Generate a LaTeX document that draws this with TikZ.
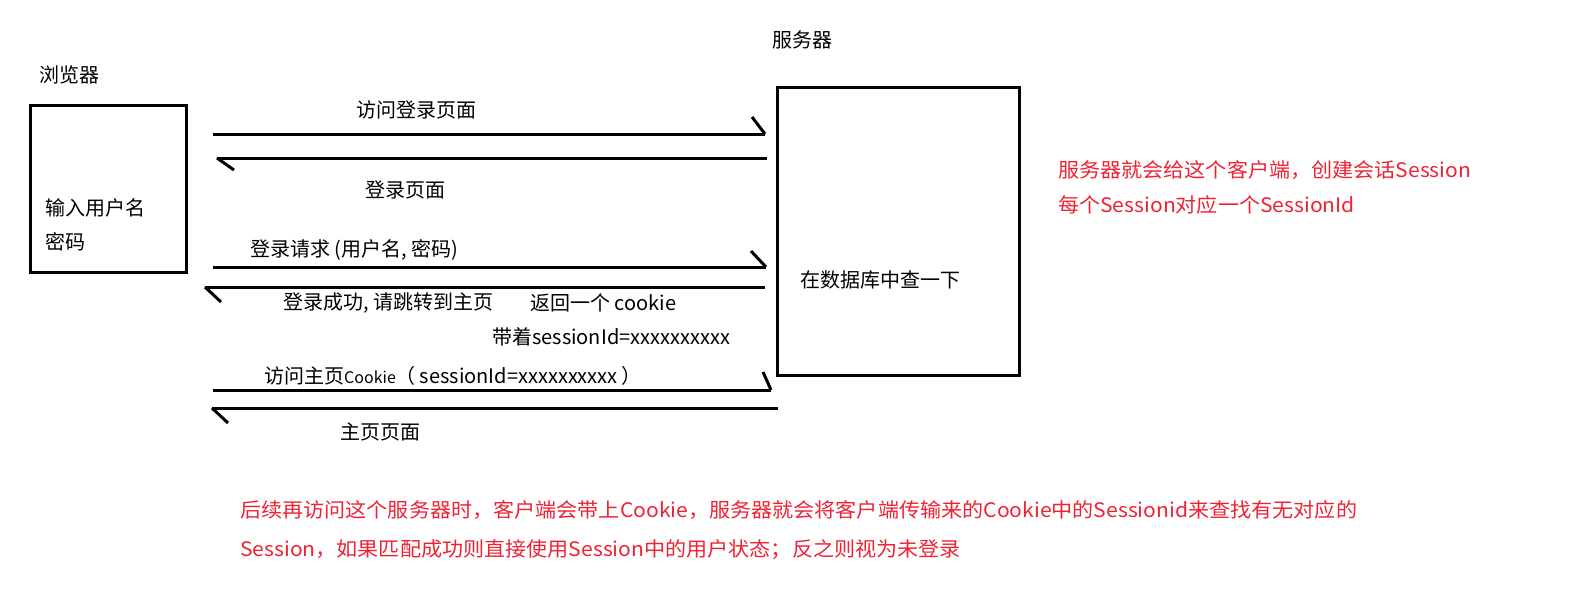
\documentclass[tikz,border=0pt]{standalone}
\usepackage{fontspec}
\setmainfont{Noto Sans CJK SC}
\definecolor{note}{RGB}{238,34,51}
\begin{document}
\begin{tikzpicture}[x=1pt,y=-1pt,
  box/.style={draw,line width=3pt},
  msg/.style={line width=3pt},
  barb/.style={line width=3pt},
  lbl/.style={anchor=west,inner sep=0pt,font=\fontsize{20}{24}\selectfont},
  red/.style={anchor=west,inner sep=0pt,text=note,xscale=1.055,font=\fontsize{20}{24}\selectfont}]
\useasboundingbox (0,0) rectangle (1577,595);
% boxes
\node[box,minimum width=156pt,minimum height=167pt,inner sep=0pt] (browser) at (108,188.5) {};
\node[box,minimum width=242pt,minimum height=288pt,inner sep=0pt] (server) at (898,231) {};
\node[lbl] (bt) at (39,75) {浏览器};
\node[lbl] (st) at (772,40) {服务器};
\node[lbl] (b1) at (45,208) {输入用户名};
\node[lbl] (b2) at (45,242) {密码};
\node[lbl] (s1) at (800,280) {在数据库中查一下};
% message endpoints
\coordinate (a1s) at (213,134); \coordinate (a1e) at (765,134);
\coordinate (a2s) at (767,158); \coordinate (a2e) at (217,158);
\coordinate (a3s) at (213,267); \coordinate (a3e) at (766,267);
\coordinate (a4s) at (765,287); \coordinate (a4e) at (205,287);
\coordinate (a5s) at (213,390); \coordinate (a5e) at (771,390);
\coordinate (a6s) at (778,408); \coordinate (a6e) at (212,408);
\draw[msg] (a1s) -- (a1e); \draw[barb] (a1e) -- ++(-13,-17);
\draw[msg] (a2s) -- (a2e); \draw[barb] (a2e) -- ++(17,12);
\draw[msg] (a3s) -- (a3e); \draw[barb] (a3e) -- ++(-15,-16);
\draw[msg] (a4s) -- (a4e); \draw[barb] (a4e) -- ++(16,15);
\draw[msg] (a5s) -- (a5e); \draw[barb] (a5e) -- ++(-8,-18);
\draw[msg] (a6s) -- (a6e); \draw[barb] (a6e) -- ++(16,15);
% labels
\node[lbl] (l1) at (356,110) {访问登录页面};
\node[lbl] (l2) at (365,190) {登录页面};
\node[lbl] (l3) at (250,250) {登录请求 (用户名, 密码)};
\node[lbl] (l4) at (283,303) {登录成功, 请跳转到主页};
\node[lbl] (l4b) at (530,303) {返回一个 cookie};
\node[lbl] (l4c) at (492,337) {带着sessionId=xxxxxxxxxx};
\node[lbl] (l5) at (264,376) {访问主页{\fontsize{16}{19}\selectfont Cookie}（\hspace{4pt}sessionId=xxxxxxxxxx\hspace{4pt}）};
\node[lbl] (l6) at (340,432) {主页页面};
% notes
\node[red] (n1) at (1058,170) {服务器就会给这个客户端，创建会话Session};
\node[red] (n2) at (1058,205) {每个Session对应一个SessionId};
\node[red] (n3) at (240,510) {后续再访问这个服务器时，客户端会带上Cookie，服务器就会将客户端传输来的Cookie中的Sessionid来查找有无对应的};
\node[red] (n4) at (240,550) {Session，如果匹配成功则直接使用Session中的用户状态；反之则视为未登录};
\end{tikzpicture}
\end{document}
